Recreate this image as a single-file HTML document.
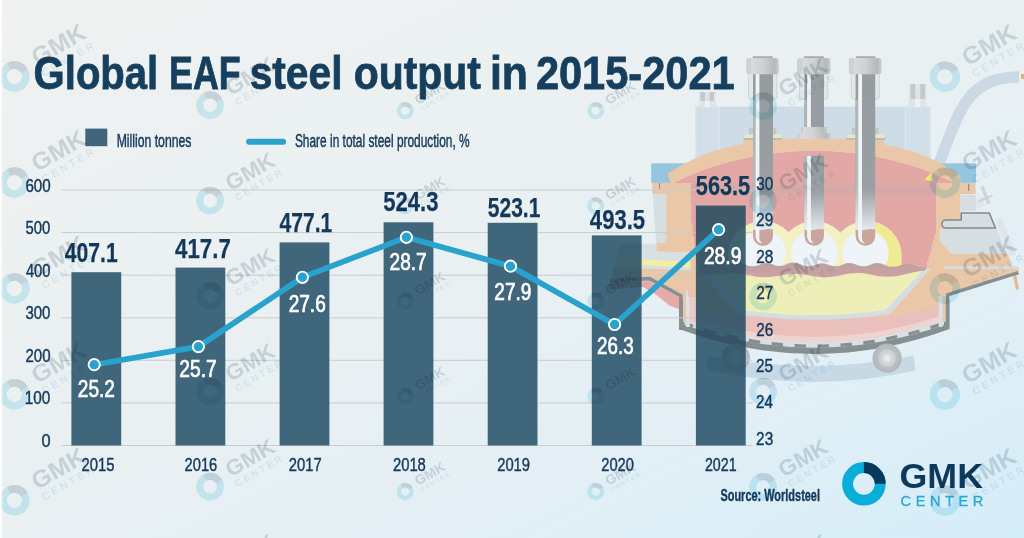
<!DOCTYPE html>
<html><head><meta charset="utf-8"><title>Global EAF steel output in 2015-2021</title>
<style>
html,body{margin:0;padding:0;}
body{width:1024px;height:538px;overflow:hidden;font-family:"Liberation Sans",sans-serif;}
svg{display:block;font-family:"Liberation Sans",sans-serif;}
</style></head><body>
<svg width="1024" height="538" viewBox="0 0 1024 538">
<defs>
<linearGradient id="bg" gradientUnits="userSpaceOnUse" x1="0" y1="0" x2="397" y2="832">
<stop offset="0" stop-color="#eff1f0"/><stop offset="0.5" stop-color="#e9f0f2"/><stop offset="0.73" stop-color="#e3eff5"/><stop offset="1" stop-color="#d5edf8"/>
</linearGradient>
<linearGradient id="rod" x1="0" y1="74" x2="0" y2="234" gradientUnits="userSpaceOnUse">
<stop offset="0" stop-color="#969c9f"/><stop offset="0.72" stop-color="#999fa2"/><stop offset="0.97" stop-color="#e4e9ec"/>
</linearGradient>
<linearGradient id="rod2" x1="0" y1="155.8" x2="0" y2="234.8" gradientUnits="userSpaceOnUse">
<stop offset="0" stop-color="#969c9f"/><stop offset="0.45" stop-color="#999fa2"/><stop offset="0.95" stop-color="#e4e9ec"/>
</linearGradient>
<linearGradient id="rodedge" x1="0" y1="74" x2="0" y2="234" gradientUnits="userSpaceOnUse">
<stop offset="0" stop-color="#aeb3b6"/><stop offset="0.7" stop-color="#b4b9bc"/><stop offset="0.97" stop-color="#e8ecee"/>
</linearGradient>
<linearGradient id="cap" x1="0" y1="0" x2="1" y2="0">
<stop offset="0" stop-color="#c6c9ca"/><stop offset="0.12" stop-color="#d9dbdc"/><stop offset="0.5" stop-color="#cfd1d2"/><stop offset="0.85" stop-color="#b7babb"/><stop offset="1" stop-color="#c9cccd"/>
</linearGradient>
<linearGradient id="band" x1="0" y1="0" x2="0" y2="1">
<stop offset="0" stop-color="#cdaaaa" stop-opacity="0"/><stop offset="0.5" stop-color="#c9a9a9" stop-opacity="0.62"/><stop offset="1" stop-color="#cdaaaa" stop-opacity="0"/>
</linearGradient>
<radialGradient id="wheel" cx="0.5" cy="0.5" r="0.5">
<stop offset="0" stop-color="#eaeeef"/><stop offset="0.22" stop-color="#e1e5e7"/><stop offset="0.32" stop-color="#d2d7d9"/><stop offset="0.55" stop-color="#cbd0d3"/><stop offset="0.64" stop-color="#b9bfc2"/><stop offset="1" stop-color="#b1b7ba"/>
</radialGradient>
<linearGradient id="slag" gradientUnits="userSpaceOnUse" x1="0" y1="260" x2="0" y2="277">
<stop offset="0" stop-color="#b7a2a2"/><stop offset="0.5" stop-color="#c6a0a1"/><stop offset="1" stop-color="#d2a2a5"/>
</linearGradient>

</defs>
<rect width="1024" height="538" fill="url(#bg)"/>
<g id="furnace">
<!-- back boxes -->
<rect x="695.7" y="106.6" width="234.5" height="70" fill="#cddce7"/>
<rect x="695.7" y="106.6" width="23.5" height="70" fill="#d2dfe8" stroke="#dde6ec" stroke-width="1.4"/>
<rect x="905.5" y="106.6" width="24.7" height="70" fill="#d2dfe8" stroke="#dde6ec" stroke-width="1.4"/>
<!-- posts on boxes -->
<g fill="#dfe4e6">
<rect x="699" y="92" width="17" height="15"/>
<rect x="909" y="84" width="17.5" height="23"/>
</g>
<g fill="#c4c9cb">
<rect x="700.5" y="92" width="4.5" height="9"/><rect x="709.5" y="92" width="4.5" height="9"/>
<rect x="910.6" y="84" width="4.6" height="15"/><rect x="920.2" y="84" width="4.8" height="15"/>
</g>
<g fill="#eef2f4">
<rect x="705" y="101" width="4.5" height="6"/><rect x="915.2" y="99" width="5" height="8"/>
</g>
<!-- pipe -->
<path d="M1019,77 C990,77 972,88 960,112 C953,126 945,147 936,172" fill="none" stroke="#cbd9e5" stroke-width="11.5"/>
<rect x="1021" y="74" width="3" height="5" fill="#e0b070"/>
<!-- blue rects -->
<rect x="651.2" y="163.3" width="40" height="19.6" fill="#96c5e0"/>
<rect x="941.5" y="163.3" width="34.5" height="19.6" fill="#96c5e0"/>
<!-- left side blocks -->
<rect x="652.3" y="183" width="38.5" height="11.2" fill="#e9c7a7"/>
<path d="M652.8,194.2 L667,194.2 L667,243 L656,243 Z" fill="#d7dee1"/>
<rect x="666.4" y="190" width="24.6" height="62" fill="#e9c7a7"/>
<rect x="659" y="183" width="1" height="6" fill="#868f92"/>
<!-- left spout -->
<path d="M614.3,266 L700,268 L700,300 L684,300 L684,297 L650,279 L610.8,281 Z" fill="#e9c7a7"/>
<path d="M620.7,243.8 L656.5,243.8 L656.5,251.6 L700,251.6 L700,263 L616.6,258.5 Z" fill="#d9e0e3"/>
<rect x="656.5" y="243" width="43.5" height="8.6" fill="#e9c7a7"/>
<path d="M616.7,258 L700,262.4 L700,268 L615.2,263.8 Z" fill="#f2ef9f"/>
<path d="M615.2,263.8 L700,268 L700,271 L614.3,267 Z" fill="#d7dee1"/>
<path d="M609.5,282.5 L649.5,281 L680,297.5 L680,309.5 L669.7,305.7 L654.9,293.8 L643,287 L608,289.5 Z" fill="#e6aaa7"/>
<path d="M610.3,280.8 L649.6,278.6 L681,296 L681,330" fill="none" stroke="#868f92" stroke-width="3.6" stroke-linejoin="miter"/>
<!-- right side blocks -->
<rect x="936" y="183" width="39.5" height="11" fill="#e9c7a7"/>
<rect x="936" y="183" width="24.5" height="90" fill="#e9c7a7"/>
<rect x="968" y="184" width="1.2" height="7" fill="#868f92"/>
<rect x="960.4" y="194.7" width="15.6" height="16.5" fill="#d7dee1"/>
<path d="M976,199 L984,196 L984,206 L976,209 Z" fill="#e2e7ea"/>

<!-- right platform -->
<path d="M936,250 L1006,250 L1012.5,267 L936,267 Z" fill="#e9c7a7"/>
<path d="M995,220 L1001.5,217.5 L1016,254 L1009.5,256.5 Z" fill="#dbe3e8" opacity="0.8"/>
<path d="M980.5,187 L983.5,185.8 L990.5,203 L987.5,204.2 Z" fill="#cdd4d8"/><path d="M978,200.5 L992,194.5 L992.8,196.5 L978.8,202.5 Z" fill="#cdd4d8"/>
<path d="M939.5,229 L997,229 L1007,254 L951.5,254 L939.5,241 Z" fill="#d7dee1"/>
<path d="M961.2,213 L989.3,213 L995.5,228 L946,228 A4,4 0 0 1 946,220 L961.2,220 Z" fill="#d7dee1" stroke="#808b8f" stroke-width="1.6" stroke-linejoin="round"/>

<!-- right spout -->
<path d="M920,267 L1018.5,267 L1018.5,272.5 L947.5,294.5 L947.5,330 L900,330 Z" fill="#e9c7a7"/>
<rect x="925" y="266.3" width="93.5" height="2.8" fill="#d7dee1"/>
<path d="M1013,275 L1016,274 L1019,289 L1016,290 Z" fill="#e3b98c"/>
<path d="M1018.5,272.6 L947.5,294.8 L947.5,329" fill="none" stroke="#868f92" stroke-width="3.4"/>
<!-- shell -->
<path d="M679,300 L679,329 Q814,379 949.5,329 L949.5,300 Z" fill="#868f92"/>
<path d="M683,300 L683,326.5 Q814,375 945.5,326.5 L945.5,300 Z" fill="#868f92"/>
<path d="M684.5,290 L684.5,325 Q814,370.4 944,325 L944,290 Z" fill="#d7e0e4"/>
<path d="M686,323.8 Q814,368.4 942,323.8" fill="none" stroke="#868f92" stroke-width="3.2" stroke-dasharray="11.5 11.5" stroke-dashoffset="4"/>
<path d="M688,290 L688,321 Q814,364.6 940,321 L940,290 Z" fill="#eed3d0"/>
<path d="M688,290 L688,316 Q814,357.5 940,316 L940,290 Z" fill="#e9c0bb"/>
<!-- orange refractory -->
<path d="M691,250 L691,300 Q700,312 740,317 Q814,321 888,317 Q928,312 944,300 L944,262 L936,262 L936,250 Z" fill="#e9c7a7"/>
<rect x="683" y="288" width="3.2" height="34" fill="#e9c7a7"/><rect x="942.4" y="288" width="3.4" height="34" fill="#e9c7a7"/>
<rect x="938.7" y="296" width="3.8" height="31" fill="#d9e2e6"/>
<rect x="686" y="296.8" width="3.8" height="30.2" fill="#d9e2e6"/>
<rect x="689.8" y="297" width="6.2" height="25" fill="#edc9c6"/>
<!-- lining + bowl -->
<path d="M691,262 L738,314 Q814,325.5 890,314 L936,263 Z" fill="#d3dde3"/>
<path d="M697,262 L743,310 Q814,320.5 885.7,310 L930,263 Z" fill="#eeeeb9"/>
<!-- chamber pink -->
<path d="M690.5,268 L690.5,183 L936,183 L936,268 Z" fill="#e9c7a7"/>
<path d="M700,268 L698.5,262 L697,262 L697,254 L695.5,254 L695.5,246 L694,246 L694,236 L692.5,236 L692.5,223 L691,223 L691,183 L671,183 Q735,152 814,150.5 Q893,152 957,183 L936,183 L936,234 L934.5,234 L934.5,239.5 L933,239.5 L933,245 L931.5,245 L931.5,250.5 L930,250.5 L930,256 L928.5,256 L928.5,261.5 L927,261.5 L927,268 Z" fill="#e3a8a5"/>
<rect x="690.5" y="181" width="245.5" height="17" fill="url(#band)"/>
<!-- dome -->
<path d="M670.7,183 L667.9,173.5 Q700,152 743.5,143.8 L743.5,138.7 L884,138.7 L884,144.5 Q928,152 959.6,175.5 L961,183 L954,183 Q893,152 814,150.5 Q735,152 674,183 Z" fill="#e9c7a7"/>
<path d="M924.5,179.5 L931.5,172.5 L932.5,181.5 Z" fill="#f0ea6e"/>
<!-- gaskets on dome -->
<g fill="#e8ebc1"><rect x="744.6" y="134.4" width="36.7" height="4.3"/><rect x="847.8" y="134.4" width="36.2" height="4.3"/></g>
<g fill="#c3c8ca"><rect x="749" y="127.9" width="4" height="6.5"/><rect x="773" y="127.9" width="3.4" height="6.5"/><rect x="851.8" y="127.9" width="4" height="6.5"/><rect x="875.2" y="127.9" width="3.4" height="6.5"/></g>
<g fill="#aeb4b7"><rect x="743.5" y="138.2" width="38.5" height="1.4"/><rect x="846.5" y="138.2" width="38.5" height="1.4"/></g>
<!-- glows -->
<clipPath id="glowclip"><rect x="690" y="200" width="250" height="69"/></clipPath>
<g clip-path="url(#glowclip)">
<g fill="#f3f1c4">
<circle cx="763" cy="256" r="35"/><circle cx="814.3" cy="256" r="35"/><circle cx="866.5" cy="256" r="35"/>
</g>
<path d="M866.5,221 A35,35 0 0 1 901.5,256 L901.5,270 L884,270 Z" fill="#efeb92"/>
<g fill="#eef4f8">
<circle cx="762.7" cy="253" r="23.2"/><circle cx="814.3" cy="253" r="23.2"/><circle cx="865.4" cy="253" r="23.2"/>
</g>
</g>
<!-- slag -->
<path d="M698,266 Q702,265 706,262 Q712,259.5 718,263 Q724,266 731,262.5 Q738,259.5 745,263 Q752,266.5 759,263.5 Q766,260 773,263 Q780,266.5 787,262.5 Q794,259.5 801,263 Q808,266.5 815,263.5 Q822,260 829,263.5 Q836,266.5 843,263 Q850,260 857,263.5 Q864,266.5 871,263 Q878,260 885,263.5 Q892,267 900,264 Q908,260.5 915,264 Q920,266.5 927,266.5 L925,269 Q915,270 900,274 Q885,277 870,273 Q855,270 840,274 Q825,277.5 810,274 Q795,270.5 780,274 Q765,277.5 750,274 Q735,270.5 720,273 Q705,275.5 699,271 Z" fill="url(#slag)" transform="translate(0,1.4)"/>
<!-- electrodes -->
<g id="el">
<rect x="753" y="74" width="20" height="160" fill="url(#rod)"/>
<rect x="753" y="74" width="2.6" height="160" fill="url(#rodedge)"/>
<rect x="755.6" y="74" width="3.8" height="160" fill="#f1f4f5"/>
<path d="M753,229.5 Q758,231.5 763,229.8 Q768,228.5 773,229.5 L773,236 A10,10 0 0 1 753,236 Z" fill="#c9a59d"/>
<path d="M755.6,229.5 L759.4,229.5 L759.4,238 Q759.4,241.5 762.5,243.2 Q757,243.5 755.6,237 Z" fill="#f1f4f5"/>
</g>
<g>
<rect x="855.6" y="74" width="19.6" height="160" fill="url(#rod)"/>
<rect x="855.6" y="74" width="2.6" height="160" fill="url(#rodedge)"/>
<rect x="858.2" y="74" width="3.8" height="160" fill="#f1f4f5"/>
<path d="M855.6,229.5 Q860.6,231.5 865.6,229.8 Q870.6,228.5 875.2,229.5 L875.2,236 A9.8,9.8 0 0 1 855.6,236 Z" fill="#c9a59d"/>
<path d="M858.2,229.5 L862,229.5 L862,238 Q862,241.5 865.1,243.2 Q859.6,243.5 858.2,237 Z" fill="#f1f4f5"/>
</g>
<g>
<rect x="804.5" y="74" width="19.5" height="56" fill="#979da0"/>
<rect x="804.5" y="74" width="2.6" height="56" fill="#aeb3b6"/>
<rect x="807.1" y="74" width="3.8" height="56" fill="#f1f4f5"/>
<rect x="801" y="127" width="26" height="6.2" fill="url(#cap)"/>
<rect x="797.6" y="133" width="33" height="5.7" fill="url(#cap)"/>
<rect x="804.5" y="155.8" width="19.5" height="79" fill="url(#rod2)"/>
<rect x="804.5" y="155.8" width="2.6" height="79" fill="url(#rodedge)"/>
<rect x="807.1" y="155.8" width="3.8" height="79" fill="#f1f4f5"/>
<path d="M804.5,229.5 Q809.5,231.5 814.5,229.8 Q819.5,228.5 824,229.5 L824,236 A9.75,9.75 0 0 1 804.5,236 Z" fill="#c9a59d"/>
<path d="M807.1,229.5 L810.9,229.5 L810.9,238 Q810.9,241.5 814,243.2 Q808.5,243.5 807.1,237 Z" fill="#f1f4f5"/>
</g>
<!-- caps -->
<g>
<rect x="748.4" y="73" width="28.4" height="26" rx="1.5" fill="#e2e7e9" stroke="#c4c9cb" stroke-width="0.8" opacity="0.9"/>
<rect x="799.4" y="73" width="28.4" height="26" rx="1.5" fill="#e2e7e9" stroke="#c4c9cb" stroke-width="0.8" opacity="0.9"/>
<rect x="851.3" y="73" width="28" height="26" rx="1.5" fill="#e2e7e9" stroke="#c4c9cb" stroke-width="0.8" opacity="0.9"/>
<rect x="753" y="74" width="20" height="26" fill="url(#rod)"/><rect x="755.6" y="74" width="3.8" height="26" fill="#f1f4f5"/>
<rect x="804.5" y="74" width="19.5" height="26" fill="#979da0"/><rect x="807.1" y="74" width="3.8" height="26" fill="#f1f4f5"/>
<rect x="855.6" y="74" width="19.6" height="26" fill="url(#rod)"/><rect x="858.2" y="74" width="3.8" height="26" fill="#f1f4f5"/>
<rect x="752.7" y="56.2" width="20" height="3" fill="#a9adaf"/>
<rect x="803.8" y="56.2" width="20" height="3" fill="#a9adaf"/>
<rect x="855.9" y="56.2" width="19.4" height="3" fill="#a9adaf"/>
<rect x="746.4" y="58" width="32.3" height="16.2" rx="2.5" fill="url(#cap)"/>
<rect x="797.2" y="58" width="33.2" height="16.2" rx="2.5" fill="url(#cap)"/>
<rect x="848.9" y="58" width="32.5" height="16.2" rx="2.5" fill="url(#cap)"/>
</g>
<g stroke="#b4b8ba" stroke-width="0.7" opacity="0.8">
<line x1="750.2" x2="750.2" y1="59" y2="73.5"/><line x1="775.6" x2="775.6" y1="59" y2="73.5"/>
<line x1="801.2" x2="801.2" y1="59" y2="73.5"/><line x1="826.8" x2="826.8" y1="59" y2="73.5"/>
<line x1="852.8" x2="852.8" y1="59" y2="73.5"/><line x1="878" x2="878" y1="59" y2="73.5"/>
</g>
<!-- wheels & shadow -->
<path d="M707.5,355.5 Q814,376.5 913.8,355.5 L915.3,370.5 Q814,393.5 706.5,370 Z" fill="#c8d9e6"/>
<circle cx="735.6" cy="357.7" r="14.3" fill="url(#wheel)"/>
<circle cx="887.1" cy="358.2" r="14.6" fill="url(#wheel)"/>
</g>

<line x1="61" x2="752.5" y1="445.5" y2="445.5" stroke="#c9cdcf" stroke-width="1"/>
<line x1="61" x2="752.5" y1="402.9" y2="402.9" stroke="#c9cdcf" stroke-width="1"/>
<line x1="61" x2="752.5" y1="360.3" y2="360.3" stroke="#c9cdcf" stroke-width="1"/>
<line x1="61" x2="752.5" y1="317.8" y2="317.8" stroke="#c9cdcf" stroke-width="1"/>
<line x1="61" x2="752.5" y1="275.2" y2="275.2" stroke="#c9cdcf" stroke-width="1"/>
<line x1="61" x2="752.5" y1="232.6" y2="232.6" stroke="#c9cdcf" stroke-width="1"/>
<line x1="61" x2="752.5" y1="190.0" y2="190.0" stroke="#c9cdcf" stroke-width="1"/>
<rect x="71.4" y="272.2" width="49.8" height="173.3" fill="#40667b"/>
<rect x="175.5" y="267.6" width="49.8" height="177.9" fill="#40667b"/>
<rect x="279.6" y="242.4" width="49.8" height="203.1" fill="#40667b"/>
<rect x="383.6" y="222.3" width="49.8" height="223.2" fill="#40667b"/>
<rect x="487.7" y="222.8" width="49.8" height="222.7" fill="#40667b"/>
<rect x="591.8" y="235.4" width="49.8" height="210.1" fill="#40667b"/>
<rect x="695.9" y="205.6" width="49.8" height="239.9" fill="#40667b"/>
<clipPath id="barclip"><rect x="71.4" y="272.2" width="49.8" height="173.3"/><rect x="175.5" y="267.6" width="49.8" height="177.9"/><rect x="279.6" y="242.4" width="49.8" height="203.1"/><rect x="383.6" y="222.3" width="49.8" height="223.2"/><rect x="487.7" y="222.8" width="49.8" height="222.7"/><rect x="591.8" y="235.4" width="49.8" height="210.1"/><rect x="695.9" y="205.6" width="49.8" height="239.9"/></clipPath>
<g clip-path="url(#barclip)" style="mix-blend-mode:multiply" opacity="0.42"><use href="#furnace"/></g>
<polyline fill="none" stroke="#29a3cd" stroke-width="5.7" stroke-linejoin="round" points="94.2,364.7 198.4,346.6 302.4,277.3 406.4,237.3 510.5,266.2 614.6,324.5 718.6,229.7"/>
<circle cx="94.2" cy="364.7" r="5.65" fill="#29a3cd" stroke="#fff" stroke-width="1.9"/>
<circle cx="198.4" cy="346.6" r="5.65" fill="#29a3cd" stroke="#fff" stroke-width="1.9"/>
<circle cx="302.4" cy="277.3" r="5.65" fill="#29a3cd" stroke="#fff" stroke-width="1.9"/>
<circle cx="406.4" cy="237.3" r="5.65" fill="#29a3cd" stroke="#fff" stroke-width="1.9"/>
<circle cx="510.5" cy="266.2" r="5.65" fill="#29a3cd" stroke="#fff" stroke-width="1.9"/>
<circle cx="614.6" cy="324.5" r="5.65" fill="#29a3cd" stroke="#fff" stroke-width="1.9"/>
<circle cx="718.6" cy="229.7" r="5.65" fill="#29a3cd" stroke="#fff" stroke-width="1.9"/>
<text x="33.62" y="89.0" font-size="46.5" font-weight="bold" fill="#163f5e" stroke="#163f5e" stroke-width="0.8" textLength="124.61" lengthAdjust="spacingAndGlyphs">Global</text>
<text x="168.98" y="89.0" font-size="46.5" font-weight="bold" fill="#163f5e" stroke="#163f5e" stroke-width="0.8" textLength="71.78" lengthAdjust="spacingAndGlyphs">EAF</text>
<text x="249.65" y="89.0" font-size="46.5" font-weight="bold" fill="#163f5e" stroke="#163f5e" stroke-width="0.8" textLength="92.88" lengthAdjust="spacingAndGlyphs">steel</text>
<text x="353.70" y="89.0" font-size="46.5" font-weight="bold" fill="#163f5e" stroke="#163f5e" stroke-width="0.8" textLength="127.29" lengthAdjust="spacingAndGlyphs">output</text>
<text x="489.98" y="89.0" font-size="46.5" font-weight="bold" fill="#163f5e" stroke="#163f5e" stroke-width="0.8" textLength="38.06" lengthAdjust="spacingAndGlyphs">in</text>
<text x="535.89" y="89.0" font-size="46.5" font-weight="bold" fill="#163f5e" stroke="#163f5e" stroke-width="0.8" textLength="198.83" lengthAdjust="spacingAndGlyphs">2015-2021</text>
<text x="116.66" y="146.8" font-size="17.6" font-weight="normal" fill="#13385b" stroke="#13385b" stroke-width="0.45" textLength="74.75" lengthAdjust="spacingAndGlyphs">Million tonnes</text>
<text x="294.93" y="146.8" font-size="17.6" font-weight="normal" fill="#13385b" stroke="#13385b" stroke-width="0.45" textLength="174.78" lengthAdjust="spacingAndGlyphs">Share in total steel production, %</text>
<text x="41.45" y="447.0" font-size="19.2" font-weight="normal" fill="#13385b" stroke="#13385b" stroke-width="0.45" textLength="9.09" lengthAdjust="spacingAndGlyphs">0</text>
<text x="24.81" y="404.4" font-size="19.2" font-weight="normal" fill="#13385b" stroke="#13385b" stroke-width="0.45" textLength="25.54" lengthAdjust="spacingAndGlyphs">100</text>
<text x="25.53" y="361.8" font-size="19.2" font-weight="normal" fill="#13385b" stroke="#13385b" stroke-width="0.45" textLength="25.03" lengthAdjust="spacingAndGlyphs">200</text>
<text x="25.45" y="319.3" font-size="19.2" font-weight="normal" fill="#13385b" stroke="#13385b" stroke-width="0.45" textLength="25.01" lengthAdjust="spacingAndGlyphs">300</text>
<text x="25.92" y="276.7" font-size="19.2" font-weight="normal" fill="#13385b" stroke="#13385b" stroke-width="0.45" textLength="24.49" lengthAdjust="spacingAndGlyphs">400</text>
<text x="25.55" y="234.1" font-size="19.2" font-weight="normal" fill="#13385b" stroke="#13385b" stroke-width="0.45" textLength="24.83" lengthAdjust="spacingAndGlyphs">500</text>
<text x="25.45" y="191.5" font-size="19.2" font-weight="normal" fill="#13385b" stroke="#13385b" stroke-width="0.45" textLength="25.27" lengthAdjust="spacingAndGlyphs">600</text>
<text x="756.09" y="444.9" font-size="19.2" font-weight="normal" fill="#13385b" stroke="#13385b" stroke-width="0.45" textLength="17.12" lengthAdjust="spacingAndGlyphs">23</text>
<text x="756.10" y="408.4" font-size="19.2" font-weight="normal" fill="#13385b" stroke="#13385b" stroke-width="0.45" textLength="16.87" lengthAdjust="spacingAndGlyphs">24</text>
<text x="756.11" y="372.0" font-size="19.2" font-weight="normal" fill="#13385b" stroke="#13385b" stroke-width="0.45" textLength="17.02" lengthAdjust="spacingAndGlyphs">25</text>
<text x="756.14" y="335.5" font-size="19.2" font-weight="normal" fill="#13385b" stroke="#13385b" stroke-width="0.45" textLength="17.02" lengthAdjust="spacingAndGlyphs">26</text>
<text x="756.13" y="299.0" font-size="19.2" font-weight="normal" fill="#13385b" stroke="#13385b" stroke-width="0.45" textLength="17.13" lengthAdjust="spacingAndGlyphs">27</text>
<text x="756.14" y="262.5" font-size="19.2" font-weight="normal" fill="#13385b" stroke="#13385b" stroke-width="0.45" textLength="17.04" lengthAdjust="spacingAndGlyphs">28</text>
<text x="756.08" y="226.1" font-size="19.2" font-weight="normal" fill="#13385b" stroke="#13385b" stroke-width="0.45" textLength="17.20" lengthAdjust="spacingAndGlyphs">29</text>
<text x="756.20" y="189.6" font-size="19.2" font-weight="normal" fill="#13385b" stroke="#13385b" stroke-width="0.45" textLength="16.98" lengthAdjust="spacingAndGlyphs">30</text>
<text x="81.41" y="470.8" font-size="19.2" font-weight="normal" fill="#13385b" stroke="#13385b" stroke-width="0.45" textLength="33.04" lengthAdjust="spacingAndGlyphs">2015</text>
<text x="184.60" y="470.8" font-size="19.2" font-weight="normal" fill="#13385b" stroke="#13385b" stroke-width="0.45" textLength="32.69" lengthAdjust="spacingAndGlyphs">2016</text>
<text x="288.84" y="470.8" font-size="19.2" font-weight="normal" fill="#13385b" stroke="#13385b" stroke-width="0.45" textLength="32.87" lengthAdjust="spacingAndGlyphs">2017</text>
<text x="392.91" y="470.8" font-size="19.2" font-weight="normal" fill="#13385b" stroke="#13385b" stroke-width="0.45" textLength="32.95" lengthAdjust="spacingAndGlyphs">2018</text>
<text x="497.18" y="470.8" font-size="19.2" font-weight="normal" fill="#13385b" stroke="#13385b" stroke-width="0.45" textLength="32.82" lengthAdjust="spacingAndGlyphs">2019</text>
<text x="601.26" y="470.8" font-size="19.2" font-weight="normal" fill="#13385b" stroke="#13385b" stroke-width="0.45" textLength="32.73" lengthAdjust="spacingAndGlyphs">2020</text>
<text x="704.93" y="470.8" font-size="19.2" font-weight="normal" fill="#13385b" stroke="#13385b" stroke-width="0.45" textLength="31.62" lengthAdjust="spacingAndGlyphs">2021</text>
<text x="64.82" y="261.5" font-size="26.8" font-weight="bold" fill="#13385b" stroke="#13385b" stroke-width="0.25" textLength="52.91" lengthAdjust="spacingAndGlyphs">407.1</text>
<text x="174.98" y="258.3" font-size="26.8" font-weight="bold" fill="#13385b" stroke="#13385b" stroke-width="0.25" textLength="55.82" lengthAdjust="spacingAndGlyphs">417.7</text>
<text x="279.50" y="231.8" font-size="26.8" font-weight="bold" fill="#13385b" stroke="#13385b" stroke-width="0.25" textLength="52.78" lengthAdjust="spacingAndGlyphs">477.1</text>
<text x="383.24" y="210.6" font-size="26.8" font-weight="bold" fill="#13385b" stroke="#13385b" stroke-width="0.25" textLength="55.25" lengthAdjust="spacingAndGlyphs">524.3</text>
<text x="487.80" y="216.6" font-size="26.8" font-weight="bold" fill="#13385b" stroke="#13385b" stroke-width="0.25" textLength="52.59" lengthAdjust="spacingAndGlyphs">523.1</text>
<text x="589.87" y="228.5" font-size="26.8" font-weight="bold" fill="#13385b" stroke="#13385b" stroke-width="0.25" textLength="55.23" lengthAdjust="spacingAndGlyphs">493.5</text>
<text x="695.86" y="194.7" font-size="26.8" font-weight="bold" fill="#13385b" stroke="#13385b" stroke-width="0.25" textLength="54.32" lengthAdjust="spacingAndGlyphs">563.5</text>
<text x="77.83" y="396.5" font-size="23.6" font-weight="normal" fill="#ffffff" stroke="#ffffff" stroke-width="0.7" textLength="37.15" lengthAdjust="spacingAndGlyphs">25.2</text>
<text x="179.36" y="376.6" font-size="23.6" font-weight="normal" fill="#ffffff" stroke="#ffffff" stroke-width="0.7" textLength="37.36" lengthAdjust="spacingAndGlyphs">25.7</text>
<text x="288.68" y="311.9" font-size="23.6" font-weight="normal" fill="#ffffff" stroke="#ffffff" stroke-width="0.7" textLength="37.09" lengthAdjust="spacingAndGlyphs">27.6</text>
<text x="389.61" y="270.3" font-size="23.6" font-weight="normal" fill="#ffffff" stroke="#ffffff" stroke-width="0.7" textLength="37.06" lengthAdjust="spacingAndGlyphs">28.7</text>
<text x="494.36" y="299.6" font-size="23.6" font-weight="normal" fill="#ffffff" stroke="#ffffff" stroke-width="0.7" textLength="37.05" lengthAdjust="spacingAndGlyphs">27.9</text>
<text x="597.08" y="353.8" font-size="23.6" font-weight="normal" fill="#ffffff" stroke="#ffffff" stroke-width="0.7" textLength="36.51" lengthAdjust="spacingAndGlyphs">26.3</text>
<text x="703.88" y="264.3" font-size="23.6" font-weight="normal" fill="#ffffff" stroke="#ffffff" stroke-width="0.7" textLength="37.55" lengthAdjust="spacingAndGlyphs">28.9</text>
<text x="720.46" y="500.7" font-size="16.8" font-weight="bold" fill="#13385b" stroke="#13385b" stroke-width="0.4" textLength="99.53" lengthAdjust="spacingAndGlyphs">Source: Worldsteel</text>
<rect x="85.3" y="128.6" width="22" height="17.6" fill="#40667b"/>
<line x1="249.1" x2="283.1" y1="141.8" y2="141.8" stroke="#29a3cd" stroke-width="6" stroke-linecap="round"/>
<g id="logo">
<circle cx="863.9" cy="483.8" r="16.3" fill="none" stroke="#08add9" stroke-width="10.9"/>
<path d="M863.9,467.5 a16.3,16.3 0 0 1 16.3,16.3" fill="none" stroke="#053a5d" stroke-width="10.9"/>
<text x="899.5" y="487.6" font-size="34.5" font-weight="bold" fill="#0b3a5d" textLength="83.5" lengthAdjust="spacingAndGlyphs">GMK</text>
<text x="900.6" y="505.7" font-size="14.6" fill="#2aa9d6" stroke="#2aa9d6" stroke-width="0.3" textLength="82.6" lengthAdjust="spacing">CENTER</text>
</g>
<g opacity="0.17" style="mix-blend-mode:multiply"><use href="#logo" transform="translate(14.4,76.4) rotate(-30) scale(0.7) translate(-863.9,-483.6)"/><use href="#logo" transform="translate(944.8,76.6) rotate(-30) scale(0.7) translate(-863.9,-483.6)"/><use href="#logo" transform="translate(210,105.0) rotate(-30) scale(0.635) translate(-863.9,-483.6)"/><use href="#logo" transform="translate(763,106.0) rotate(-30) scale(0.635) translate(-863.9,-483.6)"/><use href="#logo" transform="translate(405.2,110.6) rotate(-30) scale(0.39) translate(-863.9,-483.6)"/><use href="#logo" transform="translate(595.7,110.6) rotate(-30) scale(0.39) translate(-863.9,-483.6)"/><use href="#logo" transform="translate(14.4,182.4) rotate(-30) scale(0.7) translate(-863.9,-483.6)"/><use href="#logo" transform="translate(944.8,182.6) rotate(-30) scale(0.7) translate(-863.9,-483.6)"/><use href="#logo" transform="translate(210,200.4) rotate(-30) scale(0.635) translate(-863.9,-483.6)"/><use href="#logo" transform="translate(763,201.2) rotate(-30) scale(0.635) translate(-863.9,-483.6)"/><use href="#logo" transform="translate(405.2,205.8) rotate(-30) scale(0.39) translate(-863.9,-483.6)"/><use href="#logo" transform="translate(595.7,205.8) rotate(-30) scale(0.39) translate(-863.9,-483.6)"/><use href="#logo" transform="translate(14.4,288.3) rotate(-30) scale(0.7) translate(-863.9,-483.6)"/><use href="#logo" transform="translate(944.8,288.5) rotate(-30) scale(0.7) translate(-863.9,-483.6)"/><use href="#logo" transform="translate(210,295.8) rotate(-30) scale(0.635) translate(-863.9,-483.6)"/><use href="#logo" transform="translate(763,296.4) rotate(-30) scale(0.635) translate(-863.9,-483.6)"/><use href="#logo" transform="translate(405.2,301.0) rotate(-30) scale(0.39) translate(-863.9,-483.6)"/><use href="#logo" transform="translate(595.7,301.0) rotate(-30) scale(0.39) translate(-863.9,-483.6)"/><use href="#logo" transform="translate(14.4,394.2) rotate(-30) scale(0.7) translate(-863.9,-483.6)"/><use href="#logo" transform="translate(944.8,394.5) rotate(-30) scale(0.7) translate(-863.9,-483.6)"/><use href="#logo" transform="translate(210,391.2) rotate(-30) scale(0.635) translate(-863.9,-483.6)"/><use href="#logo" transform="translate(763,391.6) rotate(-30) scale(0.635) translate(-863.9,-483.6)"/><use href="#logo" transform="translate(405.2,396.2) rotate(-30) scale(0.39) translate(-863.9,-483.6)"/><use href="#logo" transform="translate(595.7,396.2) rotate(-30) scale(0.39) translate(-863.9,-483.6)"/><use href="#logo" transform="translate(14.4,500.2) rotate(-30) scale(0.7) translate(-863.9,-483.6)"/><use href="#logo" transform="translate(944.8,500.4) rotate(-30) scale(0.7) translate(-863.9,-483.6)"/><use href="#logo" transform="translate(210,486.6) rotate(-30) scale(0.635) translate(-863.9,-483.6)"/><use href="#logo" transform="translate(763,486.8) rotate(-30) scale(0.635) translate(-863.9,-483.6)"/><use href="#logo" transform="translate(405.2,491.4) rotate(-30) scale(0.39) translate(-863.9,-483.6)"/><use href="#logo" transform="translate(595.7,491.4) rotate(-30) scale(0.39) translate(-863.9,-483.6)"/><use href="#logo" transform="translate(14.4,606.1) rotate(-30) scale(0.7) translate(-863.9,-483.6)"/><use href="#logo" transform="translate(944.8,606.4) rotate(-30) scale(0.7) translate(-863.9,-483.6)"/><use href="#logo" transform="translate(210,582.0) rotate(-30) scale(0.635) translate(-863.9,-483.6)"/><use href="#logo" transform="translate(763,582.0) rotate(-30) scale(0.635) translate(-863.9,-483.6)"/><use href="#logo" transform="translate(405.2,586.6) rotate(-30) scale(0.39) translate(-863.9,-483.6)"/><use href="#logo" transform="translate(595.7,586.6) rotate(-30) scale(0.39) translate(-863.9,-483.6)"/></g>
<rect x="0" y="0" width="1.4" height="538" fill="#fff"/><rect x="1.4" y="0" width="1.2" height="538" fill="#fff" opacity="0.5"/>
</svg>
</body></html>
